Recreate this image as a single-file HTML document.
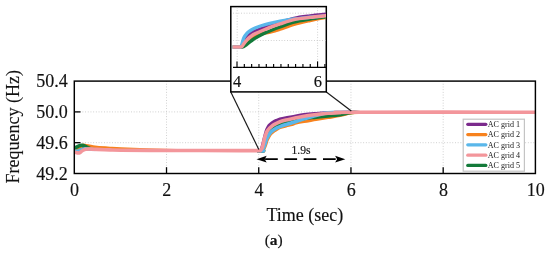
<!DOCTYPE html>
<html><head><meta charset="utf-8"><title>Frequency plot</title>
<style>
html,body{margin:0;padding:0;background:#fff;}
body{width:550px;height:253px;overflow:hidden;}
svg{display:block;font-family:'Liberation Serif','Times New Roman',serif;}
svg text{fill:#111;stroke:#111;stroke-width:0.15px;}
</style></head><body>
<svg width="550" height="253" viewBox="0 0 550 253">
<defs><clipPath id="cm"><rect x="74.3" y="81.1" width="461.1" height="92.4"/></clipPath><linearGradient id="gf" x1="0" x2="1" y1="0" y2="0"><stop offset="0" stop-color="#fff"/><stop offset="1" stop-color="#000"/></linearGradient><linearGradient id="gr" x1="0" x2="1" y1="0" y2="0"><stop offset="0" stop-color="#000"/><stop offset="1" stop-color="#fff"/></linearGradient><mask id="mA" maskUnits="userSpaceOnUse" x="0" y="0" width="550" height="253"><rect x="74" y="80" width="13" height="95" fill="#fff"/><rect x="87" y="80" width="9" height="95" fill="url(#gf)"/><rect x="257" y="80" width="93" height="95" fill="#fff"/><rect x="350" y="80" width="10" height="95" fill="url(#gf)"/></mask><mask id="mB" maskUnits="userSpaceOnUse" x="0" y="0" width="550" height="253"><rect x="74" y="80" width="66" height="95" fill="#fff"/><rect x="140" y="80" width="36" height="95" fill="url(#gf)"/><rect x="257" y="80" width="93" height="95" fill="#fff"/><rect x="350" y="80" width="10" height="95" fill="url(#gf)"/></mask><clipPath id="ci"><rect x="232.8" y="7" width="93.2" height="60"/></clipPath></defs>
<rect width="550" height="253" fill="#fff"/>
<line x1="74.3" y1="111.90" x2="535.4" y2="111.90" stroke="#c6c6c6" stroke-width="0.9" stroke-dasharray="0.9,1.8"/>
<line x1="74.3" y1="142.70" x2="535.4" y2="142.70" stroke="#c6c6c6" stroke-width="0.9" stroke-dasharray="0.9,1.8"/>
<line x1="166.52" y1="81.1" x2="166.52" y2="173.5" stroke="#c6c6c6" stroke-width="0.9" stroke-dasharray="0.9,1.8"/>
<line x1="258.74" y1="81.1" x2="258.74" y2="173.5" stroke="#c6c6c6" stroke-width="0.9" stroke-dasharray="0.9,1.8"/>
<line x1="350.96" y1="81.1" x2="350.96" y2="173.5" stroke="#c6c6c6" stroke-width="0.9" stroke-dasharray="0.9,1.8"/>
<line x1="443.18" y1="81.1" x2="443.18" y2="173.5" stroke="#c6c6c6" stroke-width="0.9" stroke-dasharray="0.9,1.8"/>
<g clip-path="url(#cm)">
<g mask="url(#mA)"><path d="M74.50,149.80 C74.92,149.70 76.08,149.43 77.00,149.20 C77.92,148.97 79.00,148.63 80.00,148.40 C81.00,148.17 81.83,147.80 83.00,147.80 C84.17,147.80 85.50,148.18 87.00,148.40 C88.50,148.62 90.33,148.93 92.00,149.10 C93.67,149.27 94.00,149.27 97.00,149.40 C100.00,149.53 106.00,149.77 110.00,149.90 C114.00,150.03 114.33,150.12 121.00,150.20 C127.67,150.28 136.83,150.35 150.00,150.40 C163.17,150.45 181.92,150.45 200.00,150.50 C218.08,150.55 248.42,150.68 258.50,150.70 C268.58,150.72 259.95,150.98 260.50,150.60 C261.05,150.22 261.42,149.33 261.80,148.40 C262.18,147.47 262.47,146.23 262.80,145.00 C263.13,143.77 263.47,142.33 263.80,141.00 C264.13,139.67 264.47,138.30 264.80,137.00 C265.13,135.70 265.45,134.40 265.80,133.20 C266.15,132.00 266.48,130.83 266.90,129.80 C267.32,128.77 267.78,127.82 268.30,127.00 C268.82,126.18 269.10,125.75 270.00,124.90 C270.90,124.05 272.53,122.65 273.70,121.90 C274.87,121.15 275.95,120.85 277.00,120.40 C278.05,119.95 278.50,119.62 280.00,119.20 C281.50,118.78 284.00,118.27 286.00,117.90 C288.00,117.53 289.00,117.50 292.00,117.00 C295.00,116.50 300.00,115.43 304.00,114.90 C308.00,114.37 312.00,114.10 316.00,113.80 C320.00,113.50 324.00,113.28 328.00,113.10 C332.00,112.92 336.33,112.83 340.00,112.70 C343.67,112.57 346.33,112.38 350.00,112.30 C353.67,112.22 360.00,112.22 362.00,112.20" fill="none" stroke="#7b2a8c" stroke-width="3.60" stroke-linejoin="round" stroke-linecap="butt"/></g>
<g mask="url(#mB)"><path d="M74.50,149.20 C74.92,149.10 76.25,148.87 77.00,148.60 C77.75,148.33 78.33,147.98 79.00,147.60 C79.67,147.22 80.33,146.67 81.00,146.30 C81.67,145.93 82.33,145.53 83.00,145.40 C83.67,145.27 84.17,145.38 85.00,145.50 C85.83,145.62 86.83,145.87 88.00,146.10 C89.17,146.33 90.50,146.65 92.00,146.90 C93.50,147.15 94.00,147.33 97.00,147.60 C100.00,147.87 106.00,148.25 110.00,148.50 C114.00,148.75 116.00,148.90 121.00,149.10 C126.00,149.30 132.83,149.53 140.00,149.70 C147.17,149.87 154.00,149.97 164.00,150.10 C174.00,150.23 184.25,150.38 200.00,150.50 C215.75,150.62 248.33,150.75 258.50,150.80 C268.67,150.85 260.22,151.00 261.00,150.80 C261.78,150.60 262.62,150.20 263.20,149.60 C263.78,149.00 264.12,148.03 264.50,147.20 C264.88,146.37 265.10,145.77 265.50,144.60 C265.90,143.43 266.38,141.50 266.90,140.20 C267.42,138.90 267.97,137.90 268.60,136.80 C269.23,135.70 269.80,134.60 270.70,133.60 C271.60,132.60 272.87,131.63 274.00,130.80 C275.13,129.97 276.50,129.18 277.50,128.60 C278.50,128.02 278.58,127.78 280.00,127.30 C281.42,126.82 284.00,126.20 286.00,125.70 C288.00,125.20 290.33,124.78 292.00,124.30 C293.67,123.82 294.00,123.32 296.00,122.80 C298.00,122.28 300.67,121.78 304.00,121.20 C307.33,120.62 312.00,119.95 316.00,119.30 C320.00,118.65 324.00,117.97 328.00,117.30 C332.00,116.63 336.42,116.00 340.00,115.30 C343.58,114.60 347.00,113.58 349.50,113.10 C352.00,112.62 352.58,112.55 355.00,112.40 C357.42,112.25 362.50,112.23 364.00,112.20" fill="none" stroke="#f7821e" stroke-width="3.60" stroke-linejoin="round" stroke-linecap="butt"/></g>
<g mask="url(#mA)"><path d="M74.50,148.10 C74.67,148.03 75.08,147.90 75.50,147.70 C75.92,147.50 76.50,147.17 77.00,146.90 C77.50,146.63 77.93,146.35 78.50,146.10 C79.07,145.85 79.73,145.52 80.40,145.40 C81.07,145.28 81.82,145.30 82.50,145.40 C83.18,145.50 83.75,145.70 84.50,146.00 C85.25,146.30 86.08,146.80 87.00,147.20 C87.92,147.60 89.17,148.10 90.00,148.40 C90.83,148.70 90.83,148.83 92.00,149.00 C93.17,149.17 94.00,149.25 97.00,149.40 C100.00,149.55 106.00,149.77 110.00,149.90 C114.00,150.03 114.33,150.12 121.00,150.20 C127.67,150.28 136.83,150.35 150.00,150.40 C163.17,150.45 181.92,150.43 200.00,150.50 C218.08,150.57 248.33,150.78 258.50,150.80 C268.67,150.82 260.32,150.93 261.00,150.60 C261.68,150.27 262.13,149.65 262.60,148.80 C263.07,147.95 263.40,146.72 263.80,145.50 C264.20,144.28 264.55,142.92 265.00,141.50 C265.45,140.08 265.92,138.42 266.50,137.00 C267.08,135.58 267.75,134.20 268.50,133.00 C269.25,131.80 269.92,130.83 271.00,129.80 C272.08,128.77 273.50,127.80 275.00,126.80 C276.50,125.80 278.17,124.62 280.00,123.80 C281.83,122.98 284.00,122.47 286.00,121.90 C288.00,121.33 289.00,120.98 292.00,120.40 C295.00,119.82 300.00,118.93 304.00,118.40 C308.00,117.87 312.00,117.60 316.00,117.20 C320.00,116.80 324.00,116.43 328.00,116.00 C332.00,115.57 336.42,115.13 340.00,114.60 C343.58,114.07 347.00,113.18 349.50,112.80 C352.00,112.42 352.58,112.40 355.00,112.30 C357.42,112.20 362.50,112.22 364.00,112.20" fill="none" stroke="#137a3a" stroke-width="3.60" stroke-linejoin="round" stroke-linecap="butt"/>
<path d="M74.50,151.20 C74.83,151.22 75.83,151.35 76.50,151.30 C77.17,151.25 77.83,151.08 78.50,150.90 C79.17,150.72 79.83,150.45 80.50,150.20 C81.17,149.95 81.75,149.62 82.50,149.40 C83.25,149.18 84.08,148.97 85.00,148.90 C85.92,148.83 86.83,148.97 88.00,149.00 C89.17,149.03 90.50,149.03 92.00,149.10 C93.50,149.17 94.00,149.27 97.00,149.40 C100.00,149.53 106.00,149.77 110.00,149.90 C114.00,150.03 114.33,150.12 121.00,150.20 C127.67,150.28 136.83,150.35 150.00,150.40 C163.17,150.45 181.92,150.43 200.00,150.50 C218.08,150.57 248.33,150.75 258.50,150.80 C268.67,150.85 260.25,151.10 261.00,150.80 C261.75,150.50 262.47,149.72 263.00,149.00 C263.53,148.28 263.85,147.38 264.20,146.50 C264.55,145.62 264.72,144.95 265.10,143.70 C265.48,142.45 265.98,140.32 266.50,139.00 C267.02,137.68 267.57,136.85 268.20,135.80 C268.83,134.75 269.42,133.67 270.30,132.70 C271.18,131.73 272.38,130.80 273.50,130.00 C274.62,129.20 275.92,128.47 277.00,127.90 C278.08,127.33 278.50,127.17 280.00,126.60 C281.50,126.03 284.00,125.15 286.00,124.50 C288.00,123.85 289.00,123.63 292.00,122.70 C295.00,121.77 300.00,120.12 304.00,118.90 C308.00,117.68 312.00,116.43 316.00,115.40 C320.00,114.37 324.00,113.23 328.00,112.70 C332.00,112.17 336.00,112.33 340.00,112.25 C344.00,112.17 348.33,112.21 352.00,112.20 C355.67,112.19 360.33,112.20 362.00,112.20" fill="none" stroke="#5ab7ea" stroke-width="3.60" stroke-linejoin="round" stroke-linecap="butt"/></g>
<path d="M74.50,152.30 C74.75,152.33 75.42,152.40 76.00,152.50 C76.58,152.60 77.42,152.83 78.00,152.90 C78.58,152.97 79.00,153.08 79.50,152.90 C80.00,152.72 80.42,152.25 81.00,151.80 C81.58,151.35 82.33,150.60 83.00,150.20 C83.67,149.80 84.33,149.58 85.00,149.40 C85.67,149.22 85.83,149.15 87.00,149.10 C88.17,149.05 90.33,149.05 92.00,149.10 C93.67,149.15 94.00,149.27 97.00,149.40 C100.00,149.53 106.00,149.77 110.00,149.90 C114.00,150.03 114.33,150.12 121.00,150.20 C127.67,150.28 136.83,150.35 150.00,150.40 C163.17,150.45 185.00,150.47 200.00,150.50 C215.00,150.53 230.25,150.58 240.00,150.60 C249.75,150.62 255.12,150.62 258.50,150.60 C261.88,150.58 259.80,150.73 260.30,150.50 C260.80,150.27 261.17,149.70 261.50,149.20 C261.83,148.70 262.07,148.12 262.30,147.50 C262.53,146.88 262.68,146.37 262.90,145.50 C263.12,144.63 263.38,143.30 263.60,142.30 C263.82,141.30 263.98,140.38 264.20,139.50 C264.42,138.62 264.66,137.80 264.90,137.00 C265.14,136.20 265.32,135.60 265.65,134.70 C265.98,133.80 266.42,132.50 266.90,131.60 C267.38,130.70 267.90,130.02 268.50,129.30 C269.10,128.58 269.58,128.08 270.50,127.30 C271.42,126.52 272.42,125.53 274.00,124.60 C275.58,123.67 278.00,122.47 280.00,121.70 C282.00,120.93 284.00,120.50 286.00,120.00 C288.00,119.50 289.00,119.33 292.00,118.70 C295.00,118.07 300.00,116.88 304.00,116.20 C308.00,115.52 312.00,115.08 316.00,114.60 C320.00,114.12 324.00,113.60 328.00,113.30 C332.00,113.00 336.00,112.98 340.00,112.80 C344.00,112.62 319.33,112.30 352.00,112.20 C384.67,112.10 505.33,112.20 536.00,112.20" fill="none" stroke="#f3969b" stroke-width="3.60" stroke-linejoin="round" stroke-linecap="butt"/>
</g>
<rect x="74.30" y="81.10" width="461.10" height="92.40" fill="none" stroke="#000" stroke-width="1.45"/>
<line x1="74.3" y1="111.90" x2="80.5" y2="111.90" stroke="#000" stroke-width="1.3"/>
<line x1="74.3" y1="142.70" x2="80.5" y2="142.70" stroke="#000" stroke-width="1.3"/>
<line x1="166.52" y1="173.5" x2="166.52" y2="167.2" stroke="#000" stroke-width="1.3"/>
<line x1="258.74" y1="173.5" x2="258.74" y2="167.2" stroke="#000" stroke-width="1.3"/>
<line x1="350.96" y1="173.5" x2="350.96" y2="167.2" stroke="#000" stroke-width="1.3"/>
<line x1="443.18" y1="173.5" x2="443.18" y2="167.2" stroke="#000" stroke-width="1.3"/>
<text x="67.8" y="87.4" text-anchor="end" font-size="18.0">50.4</text>
<text x="67.8" y="118.2" text-anchor="end" font-size="18.0">50.0</text>
<text x="67.8" y="149.0" text-anchor="end" font-size="18.0">49.6</text>
<text x="67.8" y="179.8" text-anchor="end" font-size="18.0">49.2</text>
<text x="74.6" y="196" text-anchor="middle" font-size="18">0</text>
<text x="166.8" y="196" text-anchor="middle" font-size="18">2</text>
<text x="259.0" y="196" text-anchor="middle" font-size="18">4</text>
<text x="351.3" y="196" text-anchor="middle" font-size="18">6</text>
<text x="443.5" y="196" text-anchor="middle" font-size="18">8</text>
<text x="535.7" y="196" text-anchor="middle" font-size="18">10</text>
<text transform="translate(19.3,126.7) rotate(-90)" text-anchor="middle" font-size="18">Frequency (Hz)</text>
<text x="304.9" y="221.2" text-anchor="middle" font-size="18">Time (sec)</text>
<text x="273.7" y="244.7" text-anchor="middle" font-size="15.5">(<tspan font-weight="bold">a</tspan>)</text>
<line x1="230.8" y1="92" x2="258.8" y2="149.4" stroke="#1a1a1a" stroke-width="1.2"/>
<line x1="326.3" y1="92" x2="351.3" y2="110.9" stroke="#1a1a1a" stroke-width="1.2"/>
<line x1="262" y1="159.2" x2="338" y2="159.2" stroke="#000" stroke-width="1.75" stroke-dasharray="12.7,6.6" stroke-dashoffset="-3.1"/>
<path d="M256.5,159.2 L266.7,155.8 L264.7,159.2 L266.7,162.6 Z" fill="#000"/>
<path d="M345.3,159.2 L335.1,155.8 L337.1,159.2 L335.1,162.6 Z" fill="#000"/>
<text x="301" y="153.8" text-anchor="middle" font-size="11.6" style="stroke-width:0.15px">1.9s</text>
<rect x="463.2" y="119.2" width="61.2" height="52" fill="#fff" stroke="#c4c4c4" stroke-width="1.2"/>
<line x1="467.8" y1="124.30" x2="485.8" y2="124.30" stroke="#7b2a8c" stroke-width="3.3" stroke-linecap="round"/>
<text x="487.7" y="127.00" font-size="8.1" style="stroke:none;fill:#1a1a1a">AC grid 1</text>
<line x1="467.8" y1="134.58" x2="485.8" y2="134.58" stroke="#f7821e" stroke-width="3.3" stroke-linecap="round"/>
<text x="487.7" y="137.28" font-size="8.1" style="stroke:none;fill:#1a1a1a">AC grid 2</text>
<line x1="467.8" y1="144.86" x2="485.8" y2="144.86" stroke="#5ab7ea" stroke-width="3.3" stroke-linecap="round"/>
<text x="487.7" y="147.56" font-size="8.1" style="stroke:none;fill:#1a1a1a">AC grid 3</text>
<line x1="467.8" y1="155.14" x2="485.8" y2="155.14" stroke="#f3969b" stroke-width="3.3" stroke-linecap="round"/>
<text x="487.7" y="157.84" font-size="8.1" style="stroke:none;fill:#1a1a1a">AC grid 4</text>
<line x1="467.8" y1="165.42" x2="485.8" y2="165.42" stroke="#137a3a" stroke-width="3.3" stroke-linecap="round"/>
<text x="487.7" y="168.12" font-size="8.1" style="stroke:none;fill:#1a1a1a">AC grid 5</text>
<rect x="230.8" y="6.6" width="95.5" height="85.3" fill="#fff" stroke="#000" stroke-width="1.5"/>
<line x1="233" y1="13.2" x2="326" y2="13.2" stroke="#c6c6c6" stroke-width="0.9" stroke-dasharray="0.9,1.8"/>
<line x1="233" y1="40.5" x2="326" y2="40.5" stroke="#c6c6c6" stroke-width="0.9" stroke-dasharray="0.9,1.8"/>
<line x1="237.2" y1="7.5" x2="237.2" y2="67" stroke="#c6c6c6" stroke-width="0.9" stroke-dasharray="0.9,1.8"/>
<line x1="317.6" y1="7.5" x2="317.6" y2="67" stroke="#c6c6c6" stroke-width="0.9" stroke-dasharray="0.9,1.8"/>
<g clip-path="url(#ci)">
<path d="M232.00,47.00 C233.42,47.00 238.83,47.25 240.50,47.00 C242.17,46.75 241.33,46.53 242.00,45.50 C242.67,44.47 243.67,42.17 244.50,40.80 C245.33,39.43 246.25,38.25 247.00,37.30 C247.75,36.35 248.00,35.98 249.00,35.10 C250.00,34.22 251.33,32.93 253.00,32.00 C254.67,31.07 257.00,30.28 259.00,29.50 C261.00,28.72 262.83,28.07 265.00,27.30 C267.17,26.53 269.50,25.72 272.00,24.90 C274.50,24.08 276.33,23.48 280.00,22.40 C283.67,21.32 289.00,19.47 294.00,18.40 C299.00,17.33 304.58,16.70 310.00,16.00 C315.42,15.30 323.75,14.50 326.50,14.20" fill="none" stroke="#7b2a8c" stroke-width="3.40" stroke-linejoin="round" stroke-linecap="butt"/>
<path d="M232.00,47.00 C233.50,47.00 239.17,47.12 241.00,47.00 C242.83,46.88 242.33,46.75 243.00,46.30 C243.67,45.85 244.33,44.97 245.00,44.30 C245.67,43.63 246.33,42.95 247.00,42.30 C247.67,41.65 248.00,41.25 249.00,40.40 C250.00,39.55 251.33,38.17 253.00,37.20 C254.67,36.23 257.00,35.30 259.00,34.60 C261.00,33.90 262.83,33.48 265.00,33.00 C267.17,32.52 269.50,32.33 272.00,31.70 C274.50,31.07 276.33,30.43 280.00,29.20 C283.67,27.97 289.00,25.75 294.00,24.30 C299.00,22.85 304.58,21.68 310.00,20.50 C315.42,19.32 323.75,17.75 326.50,17.20" fill="none" stroke="#f7821e" stroke-width="3.40" stroke-linejoin="round" stroke-linecap="butt"/>
<path d="M232.00,47.00 C233.58,47.00 239.58,47.07 241.50,47.00 C243.42,46.93 242.83,46.88 243.50,46.60 C244.17,46.32 244.92,45.70 245.50,45.30 C246.08,44.90 246.42,44.63 247.00,44.20 C247.58,43.77 248.00,43.48 249.00,42.70 C250.00,41.92 251.33,40.62 253.00,39.50 C254.67,38.38 257.00,37.10 259.00,36.00 C261.00,34.90 262.83,33.90 265.00,32.90 C267.17,31.90 269.50,30.98 272.00,30.00 C274.50,29.02 276.33,28.33 280.00,27.00 C283.67,25.67 289.00,23.33 294.00,22.00 C299.00,20.67 304.58,19.90 310.00,19.00 C315.42,18.10 323.75,17.00 326.50,16.60" fill="none" stroke="#137a3a" stroke-width="3.40" stroke-linejoin="round" stroke-linecap="butt"/>
<path d="M232.00,47.00 C233.42,47.00 238.95,47.17 240.50,47.00 C242.05,46.83 241.00,46.70 241.30,46.00 C241.60,45.30 241.85,44.22 242.30,42.80 C242.75,41.38 243.30,39.00 244.00,37.50 C244.70,36.00 245.67,34.78 246.50,33.80 C247.33,32.82 247.92,32.40 249.00,31.60 C250.08,30.80 251.33,29.85 253.00,29.00 C254.67,28.15 257.00,27.22 259.00,26.50 C261.00,25.78 262.83,25.30 265.00,24.70 C267.17,24.10 269.50,23.48 272.00,22.90 C274.50,22.32 276.33,21.85 280.00,21.20 C283.67,20.55 289.00,19.65 294.00,19.00 C299.00,18.35 304.58,17.87 310.00,17.30 C315.42,16.73 323.75,15.88 326.50,15.60" fill="none" stroke="#5ab7ea" stroke-width="3.40" stroke-linejoin="round" stroke-linecap="butt"/>
<path d="M232.00,47.00 C233.42,47.00 238.83,47.08 240.50,47.00 C242.17,46.92 241.50,46.95 242.00,46.50 C242.50,46.05 243.00,45.02 243.50,44.30 C244.00,43.58 244.42,42.93 245.00,42.20 C245.58,41.47 246.33,40.62 247.00,39.90 C247.67,39.18 248.00,38.75 249.00,37.90 C250.00,37.05 251.33,35.78 253.00,34.80 C254.67,33.82 257.00,32.88 259.00,32.00 C261.00,31.12 262.83,30.40 265.00,29.50 C267.17,28.60 269.50,27.53 272.00,26.60 C274.50,25.67 276.33,25.07 280.00,23.90 C283.67,22.73 289.00,20.68 294.00,19.60 C299.00,18.52 304.58,18.07 310.00,17.40 C315.42,16.73 323.75,15.90 326.50,15.60" fill="none" stroke="#f3969b" stroke-width="3.40" stroke-linejoin="round" stroke-linecap="butt"/>
</g>
<line x1="233" y1="67.4" x2="326" y2="67.4" stroke="#000" stroke-width="1.3"/>
<line x1="237.00" y1="67.4" x2="237.00" y2="61.40" stroke="#000" stroke-width="1.15"/>
<line x1="244.32" y1="67.4" x2="244.32" y2="63.90" stroke="#000" stroke-width="1.15"/>
<line x1="251.65" y1="67.4" x2="251.65" y2="63.90" stroke="#000" stroke-width="1.15"/>
<line x1="258.98" y1="67.4" x2="258.98" y2="63.90" stroke="#000" stroke-width="1.15"/>
<line x1="266.30" y1="67.4" x2="266.30" y2="63.90" stroke="#000" stroke-width="1.15"/>
<line x1="273.62" y1="67.4" x2="273.62" y2="63.90" stroke="#000" stroke-width="1.15"/>
<line x1="280.95" y1="67.4" x2="280.95" y2="63.90" stroke="#000" stroke-width="1.15"/>
<line x1="288.27" y1="67.4" x2="288.27" y2="63.90" stroke="#000" stroke-width="1.15"/>
<line x1="295.60" y1="67.4" x2="295.60" y2="63.90" stroke="#000" stroke-width="1.15"/>
<line x1="302.93" y1="67.4" x2="302.93" y2="63.90" stroke="#000" stroke-width="1.15"/>
<line x1="310.25" y1="67.4" x2="310.25" y2="63.90" stroke="#000" stroke-width="1.15"/>
<line x1="317.57" y1="67.4" x2="317.57" y2="61.40" stroke="#000" stroke-width="1.15"/>
<line x1="324.90" y1="67.4" x2="324.90" y2="63.90" stroke="#000" stroke-width="1.15"/>
<text x="237.0" y="87.0" text-anchor="middle" font-size="16.5">4</text>
<text x="317.8" y="87.0" text-anchor="middle" font-size="16.5">6</text>
</svg>
</body></html>
